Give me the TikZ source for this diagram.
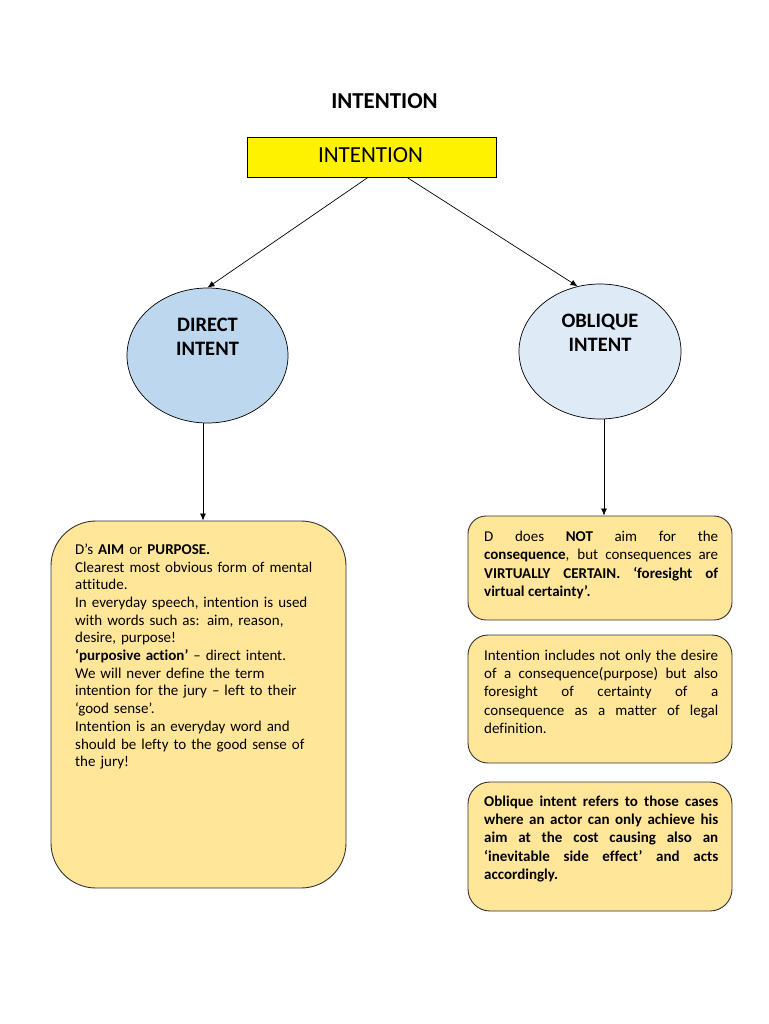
\documentclass[tikz,border=0pt]{standalone}
\usepackage{fontspec}
\setmainfont{Carlito}[Ligatures={NoCommon}]
\usetikzlibrary{arrows.meta,shapes.geometric}
\definecolor{boxfill}{HTML}{FFE699}
\definecolor{dirfill}{HTML}{BDD7EE}
\definecolor{oblfill}{HTML}{DEEBF7}
\definecolor{edge}{HTML}{333333}
\tikzset{
  arr/.style={-{Latex[length=7pt,width=6pt]}, line width=0.7pt, black},
  notebox/.style={draw=edge, line width=0.9pt, fill=boxfill},
  bodytext/.style={inner sep=0pt, anchor=base west},
  circ/.style={ellipse, draw=black, line width=0.7pt, inner sep=0pt},
  lefttxt/.style={align=left, font=\fontsize{15}{17.7}\selectfont},
  righttxt/.style={align=justify, font=\fontsize{15}{18.2}\selectfont},
  elltxt/.style={inner sep=0pt, anchor=base, align=center, font=\fontsize{20.5}{24}\selectfont\bfseries},
}
\begin{document}
\begin{tikzpicture}[x=1pt,y=-1pt]
\useasboundingbox (0,0) rectangle (768,1024);
\fill[white] (0,0) rectangle (768,1024);

% title
\node[inner sep=0pt, anchor=base, font=\fontsize{22.8}{26}\selectfont\bfseries] (title) at (384.5,109) {INTENTION};

% top rect
\node[draw=black, line width=0.8pt, fill=yellow, minimum width=249pt, minimum height=40pt, inner sep=0pt] (top) at (371.5,157) {};
\node[inner sep=0pt, anchor=base, font=\fontsize{23}{26}\selectfont] (toptext) at (370.5,163) {INTENTION};

% ellipses
\node[circ, fill=dirfill, minimum width=161pt, minimum height=135pt] (direct) at (207.5,355.5) {};
\node[elltxt] (directtext) at (207.5,355) {DIRECT\\INTENT};
\node[circ, fill=oblfill, minimum width=162pt, minimum height=135pt] (oblique) at (600,351.5) {};
\node[elltxt] (obliquetext) at (600,351) {OBLIQUE\\INTENT};

% boxes
\node[notebox, rounded corners=45pt, minimum width=295pt, minimum height=367pt, inner sep=0pt] (leftbox) at (198.5,704.5) {};
\node[notebox, rounded corners=18pt, minimum width=264pt, minimum height=104pt, inner sep=0pt] (box1) at (600,568) {};
\node[notebox, rounded corners=20pt, minimum width=264pt, minimum height=128pt, inner sep=0pt] (box2) at (600,699) {};
\node[notebox, rounded corners=22pt, minimum width=264pt, minimum height=129pt, inner sep=0pt] (box3) at (600,846.5) {};

% connectors
\draw[arr] ([xshift=-3.5pt]top.south) -- (direct.north);
\draw[arr] ([xshift=35.5pt]top.south) -- (oblique.109);
\draw[arr] ([xshift=-4.5pt]direct.south) -- ([xshift=4.5pt]leftbox.north);
\draw[arr] ([xshift=4pt]oblique.south) -- ([xshift=4pt]box1.north);

% texts
\node[bodytext, lefttxt, text width=270pt] (lefttext) at (75,554.3) {D’s \textbf{AIM} or \textbf{PURPOSE.}\\
Clearest most obvious form of mental\\
attitude.\\
In everyday speech, intention is used\\
with words such as: aim, reason,\\
desire, purpose!\\
\textbf{‘purposive action’} – direct intent.\\
We will never define the term\\
intention for the jury – left to their\\
‘good sense’.\\
Intention is an everyday word and\\
should be lefty to the good sense of\\
the jury!};

\node[bodytext, righttxt, text width=234pt] (text1) at (484,541.7) {D does \textbf{NOT} aim for the\linebreak
\textbf{consequence}, but consequences are\linebreak
\textbf{VIRTUALLY CERTAIN. ‘foresight of}\linebreak
\textbf{virtual certainty’.}};

\node[bodytext, righttxt, text width=234pt] (text2) at (484,660.5) {Intention includes not only the desire\linebreak
of a consequence(purpose) but also\linebreak
foresight of certainty of a\linebreak
consequence as a matter of legal\linebreak
definition.};

\node[bodytext, righttxt, text width=234pt, font=\fontsize{15}{18.2}\selectfont\bfseries] (text3) at (484,806.5) {Oblique intent refers to those cases\linebreak
where an actor can only achieve his\linebreak
aim at the cost causing also an\linebreak
‘inevitable side effect’ and acts\linebreak
accordingly.};
\end{tikzpicture}
\end{document}
